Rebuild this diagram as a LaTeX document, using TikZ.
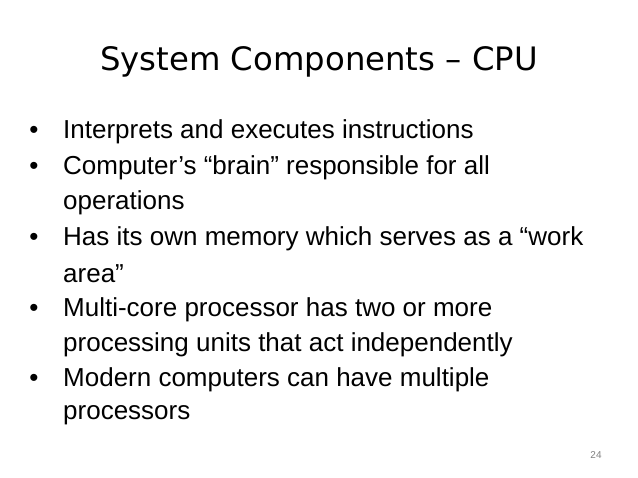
\documentclass[tikz,border=0pt]{standalone}
\usepackage{fontspec}
\setmainfont{Liberation Sans}
\newfontfamily\titlefont{DejaVu Sans}
\begin{document}
\begin{tikzpicture}[x=1pt,y=-1pt,
  body/.style={anchor=west,inner sep=0pt,font=\fontsize{26}{30}\selectfont},
  bul/.style={anchor=center,inner sep=0pt,font=\fontsize{26}{30}\selectfont}]
\useasboundingbox (0,0) rectangle (638,478);
\node[inner sep=0pt,font=\titlefont\fontsize{32.3}{38}\selectfont] (title) at (319,62) {System Components – CPU};
\foreach \y/\t/\b in {
 132/Interprets and executes instructions/1,
 168/Computer’s “brain” responsible for all/1,
 203/operations/0,
 239/Has its own memory which serves as a “work/1,
 274/area”/0,
 310/Multi-core processor has two or more/1,
 345/processing units that act independently/0,
 380/Modern computers can have multiple/1,
 415/processors/0}{
  \node[body] (l\y) at (63,\y) {\t};
  \ifnum\b=1 \node[bul] (b\y) at (34,\y) {•};\fi
}
\node[inner sep=0pt,text=gray,font=\fontsize{10}{12}\selectfont] (pg) at (596,455) {24};
\end{tikzpicture}
\end{document}
